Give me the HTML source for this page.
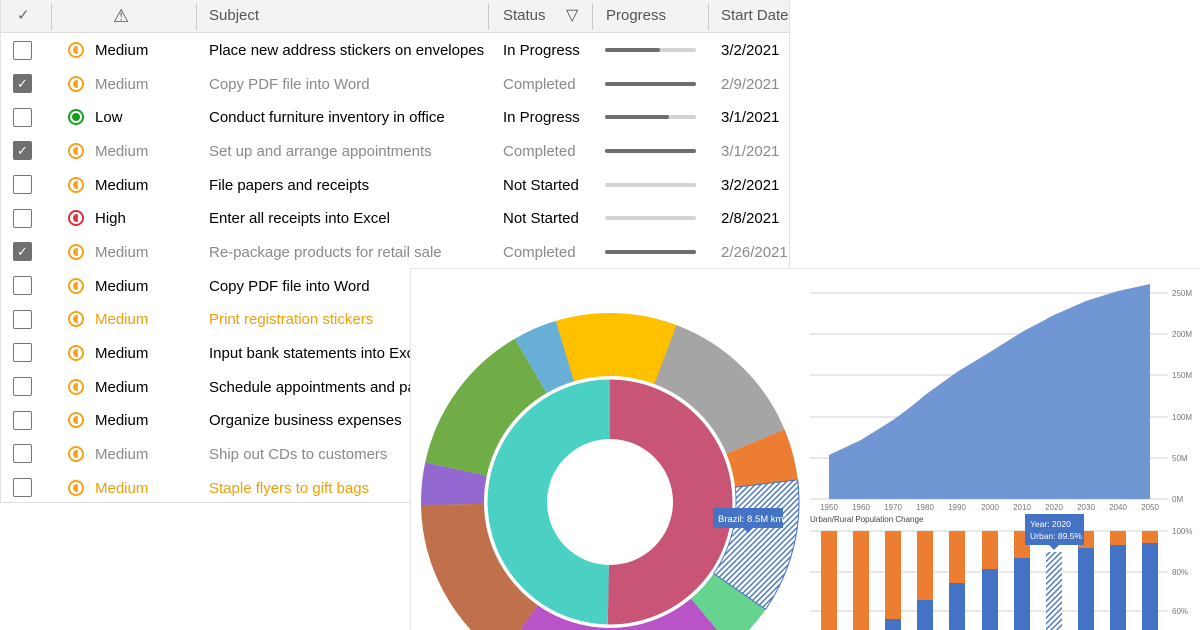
<!DOCTYPE html>
<html><head><meta charset="utf-8"><style>
html,body{margin:0;width:1200px;height:630px;overflow:hidden;background:#fff;font-family:"Liberation Sans",sans-serif;position:relative}
.t{position:absolute;font-size:15px;white-space:nowrap;line-height:20px;margin-top:2px}
.cb{position:absolute;left:13px;width:19px;height:19px;border:1.5px solid #777;border-radius:2px;box-sizing:border-box;background:#fff;margin-top:1px}
.cb.on{background:#707070;border-color:#707070;color:#fff;font-size:13px;text-align:center;line-height:17px}
.ic{position:absolute;left:68px;width:16px;height:16px;border-radius:50%;box-sizing:border-box;border:2px solid #f7a21b;margin-top:1px}
.ic:after{content:"";position:absolute;left:3px;top:2px;width:8px;height:8px;border-radius:50%;background:#f7a21b;clip-path:polygon(0 0,60% 0,60% 100%,0 100%)}
.ic.g{border-color:#14a01e}.ic.g:after{background:#14a01e;clip-path:none;left:2px;top:2px}
.ic.r{border-color:#e0303c}.ic.r:after{background:#e0303c}
.pb{position:absolute;left:605px;width:91px;height:4px;background:#d3d3d3;border-radius:2px;margin-top:1px}
.pb i{display:block;height:4px;background:#6e6e6e;border-radius:2px}
.gray{color:#8a8a8a}.or{color:#f29f05}
.hd{position:absolute;top:0;height:32px;line-height:32px;font-size:15px;color:#555}
</style></head><body>
<div style="position:absolute;left:0;top:0;width:790px;height:32px;background:#f3f3f3;border-bottom:1px solid #ddd"></div>
<div style="position:absolute;left:789px;top:0;width:1px;height:503px;background:#e2e2e2"></div>
<div style="position:absolute;left:0;top:0;width:1px;height:503px;background:#e2e2e2"></div>
<div style="position:absolute;left:0;top:502px;width:790px;height:1px;background:#e2e2e2"></div>
<div style="position:absolute;left:51px;top:3px;width:1px;height:27px;background:#ccc"></div>
<div style="position:absolute;left:196px;top:3px;width:1px;height:27px;background:#ccc"></div>
<div style="position:absolute;left:488px;top:3px;width:1px;height:27px;background:#ccc"></div>
<div style="position:absolute;left:592px;top:3px;width:1px;height:27px;background:#ccc"></div>
<div style="position:absolute;left:708px;top:3px;width:1px;height:27px;background:#ccc"></div>
<div class="hd" style="left:17px;color:#666">✓</div>
<div class="hd" style="left:113px;font-size:18px">⚠</div>
<div class="hd" style="left:209px">Subject</div>
<div class="hd" style="left:503px">Status</div>
<div class="hd" style="left:566px;font-size:16px">▽</div>
<div class="hd" style="left:606px">Progress</div>
<div class="hd" style="left:721px">Start Date</div>

<div class="cb" style="top:40px"></div><div class="ic" style="top:41px"></div><div class="t" style="left:95px;top:39px">Medium</div><div class="t" style="left:209px;top:39px">Place new address stickers on envelopes</div><div class="t" style="left:503px;top:39px">In Progress</div><div class="pb" style="top:47px"><i style="width:60%"></i></div><div class="t" style="left:721px;top:39px">3/2/2021</div>
<div class="cb on" style="top:73px">✓</div><div class="ic" style="top:75px"></div><div class="t gray" style="left:95px;top:73px">Medium</div><div class="t gray" style="left:209px;top:73px">Copy PDF file into Word</div><div class="t gray" style="left:503px;top:73px">Completed</div><div class="pb" style="top:81px"><i style="width:100%"></i></div><div class="t gray" style="left:721px;top:73px">2/9/2021</div>
<div class="cb" style="top:107px"></div><div class="ic g" style="top:108px"></div><div class="t" style="left:95px;top:106px">Low</div><div class="t" style="left:209px;top:106px">Conduct furniture inventory in office</div><div class="t" style="left:503px;top:106px">In Progress</div><div class="pb" style="top:114px"><i style="width:70%"></i></div><div class="t" style="left:721px;top:106px">3/1/2021</div>
<div class="cb on" style="top:140px">✓</div><div class="ic" style="top:142px"></div><div class="t gray" style="left:95px;top:140px">Medium</div><div class="t gray" style="left:209px;top:140px">Set up and arrange appointments</div><div class="t gray" style="left:503px;top:140px">Completed</div><div class="pb" style="top:148px"><i style="width:100%"></i></div><div class="t gray" style="left:721px;top:140px">3/1/2021</div>
<div class="cb" style="top:174px"></div><div class="ic" style="top:176px"></div><div class="t" style="left:95px;top:174px">Medium</div><div class="t" style="left:209px;top:174px">File papers and receipts</div><div class="t" style="left:503px;top:174px">Not Started</div><div class="pb" style="top:182px"><i style="width:0"></i></div><div class="t" style="left:721px;top:174px">3/2/2021</div>
<div class="cb" style="top:208px"></div><div class="ic r" style="top:209px"></div><div class="t" style="left:95px;top:207px">High</div><div class="t" style="left:209px;top:207px">Enter all receipts into Excel</div><div class="t" style="left:503px;top:207px">Not Started</div><div class="pb" style="top:215px"><i style="width:0"></i></div><div class="t" style="left:721px;top:207px">2/8/2021</div>
<div class="cb on" style="top:241px">✓</div><div class="ic" style="top:243px"></div><div class="t gray" style="left:95px;top:241px">Medium</div><div class="t gray" style="left:209px;top:241px">Re-package products for retail sale</div><div class="t gray" style="left:503px;top:241px">Completed</div><div class="pb" style="top:249px"><i style="width:100%"></i></div><div class="t gray" style="left:721px;top:241px">2/26/2021</div>
<div class="cb" style="top:275px"></div><div class="ic" style="top:277px"></div><div class="t" style="left:95px;top:275px">Medium</div><div class="t" style="left:209px;top:275px">Copy PDF file into Word</div>
<div class="cb" style="top:309px"></div><div class="ic" style="top:310px"></div><div class="t or" style="left:95px;top:308px">Medium</div><div class="t or" style="left:209px;top:308px">Print registration stickers</div>
<div class="cb" style="top:342px"></div><div class="ic" style="top:344px"></div><div class="t" style="left:95px;top:342px">Medium</div><div class="t" style="left:209px;top:342px">Input bank statements into Excel</div>
<div class="cb" style="top:376px"></div><div class="ic" style="top:378px"></div><div class="t" style="left:95px;top:376px">Medium</div><div class="t" style="left:209px;top:376px">Schedule appointments and payments</div>
<div class="cb" style="top:410px"></div><div class="ic" style="top:411px"></div><div class="t" style="left:95px;top:409px">Medium</div><div class="t" style="left:209px;top:409px">Organize business expenses</div>
<div class="cb" style="top:443px"></div><div class="ic" style="top:445px"></div><div class="t gray" style="left:95px;top:443px">Medium</div><div class="t gray" style="left:209px;top:443px">Ship out CDs to customers</div>
<div class="cb" style="top:477px"></div><div class="ic" style="top:479px"></div><div class="t or" style="left:95px;top:477px">Medium</div><div class="t or" style="left:209px;top:477px">Staple flyers to gift bags</div>

<svg style="position:absolute;left:0;top:0;display:block" width="1200" height="630" font-family="Liberation Sans, sans-serif">
<defs>
<pattern id="h" width="4" height="4" patternUnits="userSpaceOnUse" patternTransform="rotate(45)"><rect width="4" height="4" fill="#fff"/><rect width="1.4" height="4" fill="#4472c4"/></pattern>
</defs>
<rect x="410.5" y="268.5" width="790" height="362" fill="#fff" stroke="#e6e6e6"/>
<g transform="rotate(-90 610 502)" fill="none">
<circle cx="610" cy="502" r="157.5" stroke="#67afd6" stroke-width="63" stroke-dasharray="37.7 989.6" stroke-dashoffset="-906.1"/>
<circle cx="610" cy="502" r="157.5" stroke="#ffc000" stroke-width="63" stroke-dasharray="46.5 989.6" stroke-dashoffset="-943.4"/>
<circle cx="610" cy="502" r="157.5" stroke="#ffc000" stroke-width="63" stroke-dasharray="57 989.6" stroke-dashoffset="0"/>
<circle cx="610" cy="502" r="157.5" stroke="#a5a5a5" stroke-width="63" stroke-dasharray="128.7 989.6" stroke-dashoffset="-56.6"/>
<circle cx="610" cy="502" r="157.5" stroke="#ed7d31" stroke-width="63" stroke-dasharray="43.7 989.6" stroke-dashoffset="-185.3"/>
<circle cx="610" cy="502" r="157.5" stroke="#66d48f" stroke-width="63" stroke-dasharray="42.4 989.6" stroke-dashoffset="-342.6"/>
<circle cx="610" cy="502" r="157.5" stroke="#b854c8" stroke-width="63" stroke-dasharray="206.2 989.6" stroke-dashoffset="-384.9"/>
<circle cx="610" cy="502" r="157.5" stroke="#c0704a" stroke-width="63" stroke-dasharray="148.5 989.6" stroke-dashoffset="-591.1"/>
<circle cx="610" cy="502" r="157.5" stroke="#9368d0" stroke-width="63" stroke-dasharray="35.7 989.6" stroke-dashoffset="-739.5"/>
<circle cx="610" cy="502" r="157.5" stroke="#70ad47" stroke-width="63" stroke-dasharray="130.9 989.6" stroke-dashoffset="-775.2"/>
<circle cx="610" cy="502" r="92.5" stroke="#c85575" stroke-width="60" stroke-dasharray="292.2 581.2" stroke-dashoffset="0"/>
<circle cx="610" cy="502" r="92.5" stroke="#4bd1c4" stroke-width="60" stroke-dasharray="289 581.2" stroke-dashoffset="-292.2"/>
</g>
<path d="M797.7,479.9 A189,189 0 0 1 765.6,609.3 L713.7,573.5 A126,126 0 0 0 735.1,487.3 Z" fill="url(#h)" stroke="#4472c4" stroke-width="1"/>
<circle cx="610" cy="502" r="124" fill="none" stroke="#fff" stroke-width="3"/>
<circle cx="610" cy="502" r="63" fill="#fff"/>
<rect x="713" y="508" width="70" height="20" fill="#4472c4"/>
<path d="M743,528 L748,533 L753,528 Z" fill="#4472c4"/>
<text x="718" y="522" font-size="9.5" fill="#fff">Brazil: 8.5M km²</text>
<g stroke="#d0d0d0" stroke-width="1">
<line x1="810" y1="293" x2="1168" y2="293"/><line x1="810" y1="334" x2="1168" y2="334"/><line x1="810" y1="375" x2="1168" y2="375"/><line x1="810" y1="417" x2="1168" y2="417"/><line x1="810" y1="458" x2="1168" y2="458"/><line x1="810" y1="499" x2="1168" y2="499"/>
</g>
<path d="M829,455 L861,440 L893,420 C910,408 918,401 925,395 L957,372 L990,352 L1022,332 L1054,315 L1086,301 L1118,291 L1150,284 L1150,499 L829,499 Z" fill="#7196d4"/>
<g font-size="8" fill="#777">
<text x="1172" y="296">250M</text><text x="1172" y="337">200M</text><text x="1172" y="378">150M</text><text x="1172" y="420">100M</text><text x="1172" y="461">50M</text><text x="1172" y="502">0M</text>
<g text-anchor="middle"><text x="829" y="510">1950</text><text x="861" y="510">1960</text><text x="893" y="510">1970</text><text x="925" y="510">1980</text><text x="957" y="510">1990</text><text x="990" y="510">2000</text><text x="1022" y="510">2010</text><text x="1054" y="510">2020</text><text x="1086" y="510">2030</text><text x="1118" y="510">2040</text><text x="1150" y="510">2050</text></g>
<text x="810" y="522" fill="#444">Urban/Rural Population Change</text>
<text x="1172" y="534">100%</text><text x="1172" y="575">80%</text><text x="1172" y="614">60%</text>
</g>
<g stroke="#d0d0d0"><line x1="810" y1="531" x2="1168" y2="531"/><line x1="810" y1="572" x2="1168" y2="572"/><line x1="810" y1="611" x2="1168" y2="611"/></g>
<g fill="#ed7d31">
<rect x="821" y="531" width="16" height="99"/><rect x="853" y="531" width="16" height="99"/><rect x="885" y="531" width="16" height="99"/><rect x="917" y="531" width="16" height="99"/><rect x="949" y="531" width="16" height="99"/><rect x="982" y="531" width="16" height="99"/><rect x="1014" y="531" width="16" height="99"/><rect x="1078" y="531" width="16" height="99"/><rect x="1110" y="531" width="16" height="99"/><rect x="1142" y="531" width="16" height="99"/>
</g>
<g fill="#4472c4">
<rect x="885" y="619" width="16" height="11"/><rect x="917" y="600" width="16" height="30"/><rect x="949" y="583" width="16" height="47"/><rect x="982" y="569" width="16" height="61"/><rect x="1014" y="558" width="16" height="72"/><rect x="1078" y="548" width="16" height="82"/><rect x="1110" y="545" width="16" height="85"/><rect x="1142" y="543" width="16" height="87"/>
</g>
<rect x="1046" y="552" width="16" height="78" fill="url(#h)"/>
<rect x="1025" y="514" width="59" height="31" fill="#4472c4"/>
<path d="M1049,545 L1054,550 L1059,545 Z" fill="#4472c4"/>
<text x="1030" y="527" font-size="8.5" fill="#fff">Year: 2020</text>
<text x="1030" y="539" font-size="8.5" fill="#fff">Urban: 89.5%</text>
</svg>
</body></html>
